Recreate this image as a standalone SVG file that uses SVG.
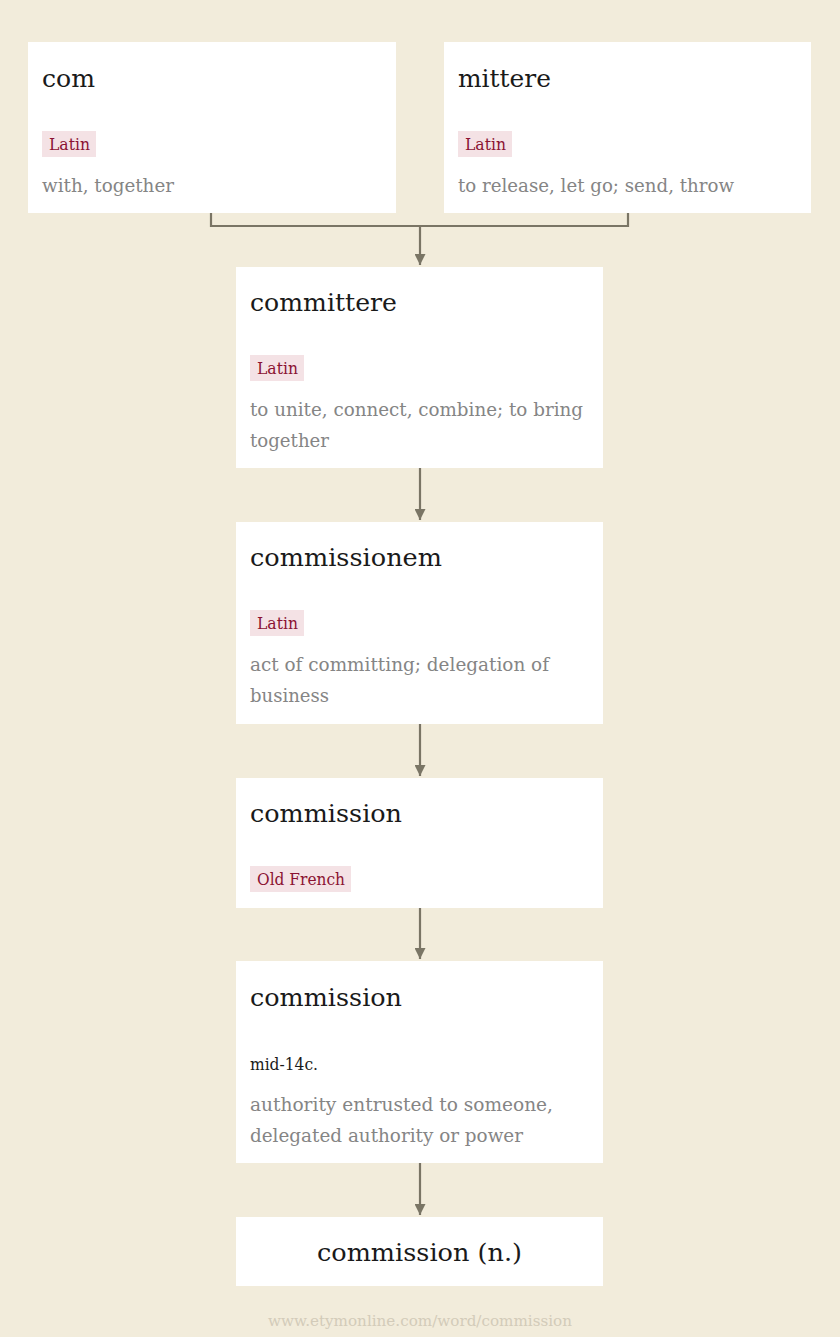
<svg xmlns="http://www.w3.org/2000/svg" width="840" height="1337" viewBox="0 0 840 1337">
<style>
.box{fill:#ffffff}
.t{font-family:"DejaVu Serif","Liberation Serif",serif;font-size:25px;fill:#1a1a1a}
.tag{fill:#f4e2e5}
.tt{font-family:"DejaVu Serif","Liberation Serif",serif;font-size:16px;fill:#8b1232}
.g{font-family:"DejaVu Serif","Liberation Serif",serif;font-size:19px;fill:#858585}
.d{font-family:"DejaVu Serif","Liberation Serif",serif;font-size:16px;fill:#1a1a1a}
.c{stroke:#7a7565;stroke-width:2.2;fill:none}
</style>
<defs>
<marker id="ah" viewBox="0 0 10 10" refX="10" refY="5" markerWidth="5" markerHeight="5" orient="auto" markerUnits="strokeWidth">
<path d="M0,0 L10,5 L0,10 z" fill="#7a7565"/>
</marker>
</defs>
<rect width="840" height="1337" fill="#f2ecdb"/>
<g id="connectors">
<path class="c" d="M211,213 V226 H628 V213"/>
<path class="c" d="M420,226 V265" marker-end="url(#ah)"/>
<path class="c" d="M420,468 V520" marker-end="url(#ah)"/>
<path class="c" d="M420,724 V776" marker-end="url(#ah)"/>
<path class="c" d="M420,908 V959" marker-end="url(#ah)"/>
<path class="c" d="M420,1163 V1215" marker-end="url(#ah)"/>
</g>
<g id="com">
<rect class="box" x="28" y="42" width="368" height="171"/>
<text class="t" x="42" y="87" textLength="53" lengthAdjust="spacingAndGlyphs">com</text>
<rect class="tag" x="42" y="131" width="54" height="26"/>
<text class="tt" x="49" y="150" textLength="41" lengthAdjust="spacingAndGlyphs">Latin</text>
<text class="g" x="42" y="192" textLength="132" lengthAdjust="spacingAndGlyphs">with, together</text>
</g>
<g id="mittere">
<rect class="box" x="444" y="42" width="367" height="171"/>
<text class="t" x="458" y="87" textLength="93" lengthAdjust="spacingAndGlyphs">mittere</text>
<rect class="tag" x="458" y="131" width="54" height="26"/>
<text class="tt" x="465" y="150" textLength="41" lengthAdjust="spacingAndGlyphs">Latin</text>
<text class="g" x="458" y="192" textLength="276" lengthAdjust="spacingAndGlyphs">to release, let go; send, throw</text>
</g>
<g id="committere">
<rect class="box" x="236" y="267" width="367" height="201"/>
<text class="t" x="250" y="311" textLength="147" lengthAdjust="spacingAndGlyphs">committere</text>
<rect class="tag" x="250" y="355" width="54" height="26"/>
<text class="tt" x="257" y="374" textLength="41" lengthAdjust="spacingAndGlyphs">Latin</text>
<text class="g" x="250" y="416" textLength="333" lengthAdjust="spacingAndGlyphs">to unite, connect, combine; to bring</text>
<text class="g" x="250" y="447" textLength="79" lengthAdjust="spacingAndGlyphs">together</text>
</g>
<g id="commissionem">
<rect class="box" x="236" y="522" width="367" height="202"/>
<text class="t" x="250" y="566" textLength="192" lengthAdjust="spacingAndGlyphs">commissionem</text>
<rect class="tag" x="250" y="610" width="54" height="26"/>
<text class="tt" x="257" y="629" textLength="41" lengthAdjust="spacingAndGlyphs">Latin</text>
<text class="g" x="250" y="671" textLength="299" lengthAdjust="spacingAndGlyphs">act of committing; delegation of</text>
<text class="g" x="250" y="702" textLength="79" lengthAdjust="spacingAndGlyphs">business</text>
</g>
<g id="commission-of">
<rect class="box" x="236" y="778" width="367" height="130"/>
<text class="t" x="250" y="822" textLength="152" lengthAdjust="spacingAndGlyphs">commission</text>
<rect class="tag" x="250" y="866" width="101" height="26"/>
<text class="tt" x="257" y="885" textLength="88" lengthAdjust="spacingAndGlyphs">Old French</text>
</g>
<g id="commission-14c">
<rect class="box" x="236" y="961" width="367" height="202"/>
<text class="t" x="250" y="1006" textLength="152" lengthAdjust="spacingAndGlyphs">commission</text>
<text class="d" x="250" y="1070" textLength="68" lengthAdjust="spacingAndGlyphs">mid-14c.</text>
<text class="g" x="250" y="1111" textLength="303" lengthAdjust="spacingAndGlyphs">authority entrusted to someone,</text>
<text class="g" x="250" y="1142" textLength="273" lengthAdjust="spacingAndGlyphs">delegated authority or power</text>
</g>
<g id="commission-n">
<rect class="box" x="236" y="1217" width="367" height="69"/>
<text class="t" x="317" y="1261" textLength="205" lengthAdjust="spacingAndGlyphs">commission (n.)</text>
</g>
<text x="420" y="1326" text-anchor="middle" font-family="DejaVu Serif, Liberation Serif, serif" font-size="14" fill="#d3cbb9" textLength="304" lengthAdjust="spacingAndGlyphs">www.etymonline.com/word/commission</text>
</svg>
